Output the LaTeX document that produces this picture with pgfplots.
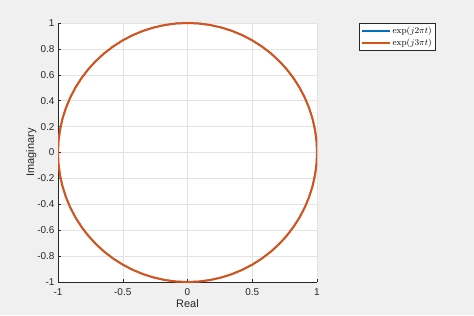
\documentclass[border=0pt]{standalone}
\usepackage{pgfplots}
\pgfplotsset{compat=1.18}
\usepackage[no-math]{fontspec}
\setmainfont{Liberation Sans}
\definecolor{bgc}{HTML}{F0F0F0}
\definecolor{mblue}{HTML}{0072BD}
\definecolor{morange}{HTML}{D95319}
\definecolor{axc}{HTML}{262626}
\definecolor{gridc}{HTML}{E3E3E3}
\begin{document}
\begin{tikzpicture}[x=1bp,y=1bp]
\fill[bgc] (0,0) rectangle (474,315);
\useasboundingbox (0,0) rectangle (474,315);
\begin{axis}[
  at={(58bp,33bp)}, anchor=south west,
  scale only axis, width=259bp, height=259bp,
  xmin=-1, xmax=1, ymin=-1, ymax=1,
  axis background/.style={fill=white},
  axis lines*=left,
  axis line style={axc, line width=0.6pt},
  xtick={-1,-0.5,0,0.5,1},
  ytick={-1,-0.8,-0.6,-0.4,-0.2,0,0.2,0.4,0.6,0.8,1},
  xticklabels={-1,-0.5,0,0.5,1},
  yticklabels={-1,-0.8,-0.6,-0.4,-0.2,0,0.2,0.4,0.6,0.8,1},
  tick align=inside,
  tick style={axc, line width=0.5pt},
  major tick length=3bp,
  grid=major,
  major grid style={gridc, line width=0.5pt},
  ticklabel style={font=\fontsize{10}{12}\selectfont, text=axc},
  xticklabel style={yshift=-3bp},
  /pgf/number format/assume math mode=true,
  xlabel={Real}, ylabel={Imaginary},
  label style={font=\fontsize{11}{13}\selectfont, text=axc},
  xlabel style={yshift=3bp},
  ylabel style={yshift=-6bp},
  legend style={at={(1.162,1.0)}, anchor=north west, draw=axc, fill=white,
    font=\fontsize{9}{10}\selectfont, inner sep=1.5pt, row sep=0pt,
    /tikz/every even column/.append style={column sep=2pt}},
  legend cell align=left,
  legend image code/.code={\draw[#1, line width=2pt] (0,0) -- (28bp,0);},
]
\addplot[mblue, line width=1.5pt] coordinates {
(1,0) (0.9962,0.0872) (0.9848,0.1736) (0.9659,0.2588) (0.9397,0.3420) (0.9063,0.4226) (0.8660,0.5) (0.8192,0.5736) (0.7660,0.6428) (0.7071,0.7071) (0.6428,0.7660) (0.5736,0.8192) (0.5,0.8660) (0.4226,0.9063) (0.3420,0.9397) (0.2588,0.9659) (0.1736,0.9848) (0.0872,0.9962) (0,1)
(-0.0872,0.9962) (-0.1736,0.9848) (-0.2588,0.9659) (-0.3420,0.9397) (-0.4226,0.9063) (-0.5,0.8660) (-0.5736,0.8192) (-0.6428,0.7660) (-0.7071,0.7071) (-0.7660,0.6428) (-0.8192,0.5736) (-0.8660,0.5) (-0.9063,0.4226) (-0.9397,0.3420) (-0.9659,0.2588) (-0.9848,0.1736) (-0.9962,0.0872) (-1,0)
(-0.9962,-0.0872) (-0.9848,-0.1736) (-0.9659,-0.2588) (-0.9397,-0.3420) (-0.9063,-0.4226) (-0.8660,-0.5) (-0.8192,-0.5736) (-0.7660,-0.6428) (-0.7071,-0.7071) (-0.6428,-0.7660) (-0.5736,-0.8192) (-0.5,-0.8660) (-0.4226,-0.9063) (-0.3420,-0.9397) (-0.2588,-0.9659) (-0.1736,-0.9848) (-0.0872,-0.9962) (0,-1)
(0.0872,-0.9962) (0.1736,-0.9848) (0.2588,-0.9659) (0.3420,-0.9397) (0.4226,-0.9063) (0.5,-0.8660) (0.5736,-0.8192) (0.6428,-0.7660) (0.7071,-0.7071) (0.7660,-0.6428) (0.8192,-0.5736) (0.8660,-0.5) (0.9063,-0.4226) (0.9397,-0.3420) (0.9659,-0.2588) (0.9848,-0.1736) (0.9962,-0.0872) (1,0)
};
\addlegendentry{$\exp(j2\pi t)$}
\addplot[morange, line width=2pt] coordinates {
(1,0) (0.9962,0.0872) (0.9848,0.1736) (0.9659,0.2588) (0.9397,0.3420) (0.9063,0.4226) (0.8660,0.5) (0.8192,0.5736) (0.7660,0.6428) (0.7071,0.7071) (0.6428,0.7660) (0.5736,0.8192) (0.5,0.8660) (0.4226,0.9063) (0.3420,0.9397) (0.2588,0.9659) (0.1736,0.9848) (0.0872,0.9962) (0,1)
(-0.0872,0.9962) (-0.1736,0.9848) (-0.2588,0.9659) (-0.3420,0.9397) (-0.4226,0.9063) (-0.5,0.8660) (-0.5736,0.8192) (-0.6428,0.7660) (-0.7071,0.7071) (-0.7660,0.6428) (-0.8192,0.5736) (-0.8660,0.5) (-0.9063,0.4226) (-0.9397,0.3420) (-0.9659,0.2588) (-0.9848,0.1736) (-0.9962,0.0872) (-1,0)
(-0.9962,-0.0872) (-0.9848,-0.1736) (-0.9659,-0.2588) (-0.9397,-0.3420) (-0.9063,-0.4226) (-0.8660,-0.5) (-0.8192,-0.5736) (-0.7660,-0.6428) (-0.7071,-0.7071) (-0.6428,-0.7660) (-0.5736,-0.8192) (-0.5,-0.8660) (-0.4226,-0.9063) (-0.3420,-0.9397) (-0.2588,-0.9659) (-0.1736,-0.9848) (-0.0872,-0.9962) (0,-1)
(0.0872,-0.9962) (0.1736,-0.9848) (0.2588,-0.9659) (0.3420,-0.9397) (0.4226,-0.9063) (0.5,-0.8660) (0.5736,-0.8192) (0.6428,-0.7660) (0.7071,-0.7071) (0.7660,-0.6428) (0.8192,-0.5736) (0.8660,-0.5) (0.9063,-0.4226) (0.9397,-0.3420) (0.9659,-0.2588) (0.9848,-0.1736) (0.9962,-0.0872) (1,0)
};
\addlegendentry{$\exp(j3\pi t)$}
\end{axis}
\end{tikzpicture}
\end{document}
